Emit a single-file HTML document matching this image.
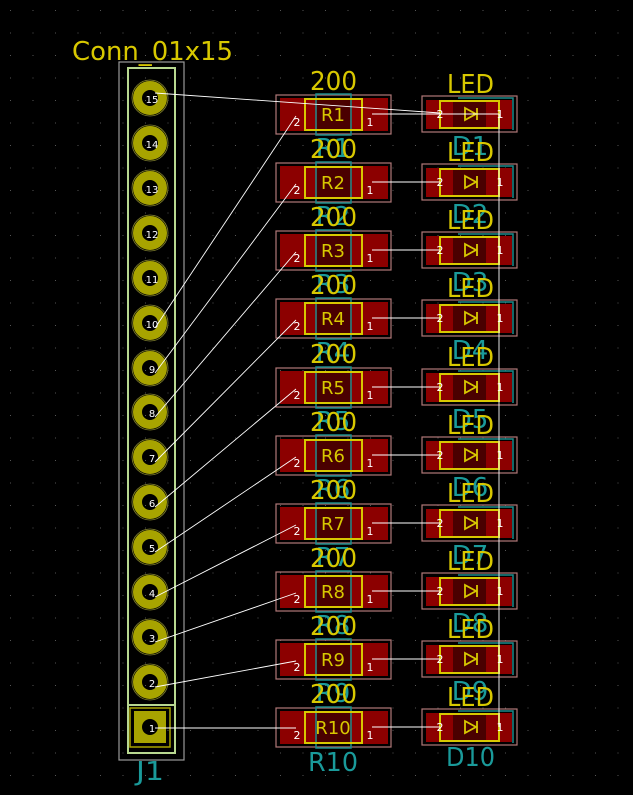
<!DOCTYPE html>
<html><head><meta charset="utf-8"><style>
html,body{margin:0;padding:0;background:#000;}
svg{display:block;}
text{font-family:"DejaVu Sans","Liberation Sans",sans-serif;}
</style></head><body>
<svg width="633" height="795" viewBox="0 0 633 795" xmlns="http://www.w3.org/2000/svg">
<defs>
<pattern id="grid" x="0" y="0" width="22.5" height="22.5" patternUnits="userSpaceOnUse">
<rect x="10" y="10" width="1" height="1" fill="#555"/>
</pattern>
<g id="res">
<rect x="276" y="-19" width="115" height="39" fill="none" stroke="#b07878" stroke-width="1.2"/>
<rect x="280" y="-16" width="108" height="33" fill="#8c0000"/>
<rect x="317" y="-16" width="33" height="33" fill="#4a0000"/>
<rect x="316" y="-20" width="35" height="41" fill="none" stroke="#1a8c8c" stroke-width="1.5"/>
<rect x="305" y="-15" width="57" height="31" fill="none" stroke="#d8c800" stroke-width="2"/>
</g>
<g id="led">
<rect x="422" y="-18" width="95" height="36" fill="none" stroke="#b07878" stroke-width="1.2"/>
<rect x="426" y="-14" width="86" height="29" fill="#8c0000"/>
<rect x="453" y="-14" width="33" height="29" fill="#4a0000"/>
<path d="M458 -16 H513 V16" fill="none" stroke="#1a8c8c" stroke-width="1.5"/>
<rect x="440" y="-13" width="59" height="27" fill="none" stroke="#d8c800" stroke-width="2"/>
<path d="M465 -6 L476 0 L465 6 Z M477 -6 V6" fill="none" stroke="#d8c800" stroke-width="1.8"/>
</g>
<g id="pad">
<circle r="18" fill="none" stroke="#8a8a30" stroke-width="0.8"/>
<circle r="12.5" fill="none" stroke="#a8a400" stroke-width="9"/>
</g>
</defs>
<rect width="633" height="795" fill="#000"/>
<rect width="633" height="795" fill="url(#grid)"/>

<!-- connector -->
<rect x="119" y="62" width="65" height="698" fill="none" stroke="#9a9a9a" stroke-width="1.2"/>
<rect x="128" y="68" width="47" height="685" fill="none" stroke="#b8d890" stroke-width="2"/>
<line x1="128" y1="705" x2="175" y2="705" stroke="#b8d890" stroke-width="2"/>
<g>
<use href="#pad" x="150" y="98"/><use href="#pad" x="150" y="143"/><use href="#pad" x="150" y="188"/>
<use href="#pad" x="150" y="233"/><use href="#pad" x="150" y="278"/><use href="#pad" x="150" y="323"/>
<use href="#pad" x="150" y="368"/><use href="#pad" x="150" y="412"/><use href="#pad" x="150" y="457"/>
<use href="#pad" x="150" y="502"/><use href="#pad" x="150" y="547"/><use href="#pad" x="150" y="592"/>
<use href="#pad" x="150" y="637"/><use href="#pad" x="150" y="682"/>
</g>
<rect x="134" y="711" width="32" height="32" fill="#a8a400"/>
<rect x="130" y="708" width="40" height="39" fill="none" stroke="#a8a400" stroke-width="1.5"/>
<circle cx="150" cy="727" r="8" fill="#000"/>
<g fill="#fff" font-size="10" text-anchor="middle">
<text x="152" y="103">15</text><text x="152" y="148">14</text><text x="152" y="193">13</text>
<text x="152" y="238">12</text><text x="152" y="283">11</text><text x="152" y="328">10</text>
<text x="152" y="373">9</text><text x="152" y="417">8</text><text x="152" y="462">7</text>
<text x="152" y="507">6</text><text x="152" y="552">5</text><text x="152" y="597">4</text>
<text x="152" y="642">3</text><text x="152" y="687">2</text><text x="152" y="732">1</text>
</g>
<text x="72" y="60" font-size="26" fill="#d8c800" textLength="161" lengthAdjust="spacingAndGlyphs">Conn_01x15</text>
<text x="136" y="780" font-size="26" fill="#1a9a9a" textLength="28" lengthAdjust="spacingAndGlyphs">J1</text>

<!-- components -->
<use href="#res" y="114"/><use href="#led" y="114"/>
<use href="#res" y="182"/><use href="#led" y="182"/>
<use href="#res" y="250"/><use href="#led" y="250"/>
<use href="#res" y="318"/><use href="#led" y="318"/>
<use href="#res" y="387"/><use href="#led" y="387"/>
<use href="#res" y="455"/><use href="#led" y="455"/>
<use href="#res" y="523"/><use href="#led" y="523"/>
<use href="#res" y="591"/><use href="#led" y="591"/>
<use href="#res" y="659"/><use href="#led" y="659"/>
<use href="#res" y="727"/><use href="#led" y="727"/>

<!-- hidden teal refs -->
<g fill="#1a9a9a" font-size="26" text-anchor="middle">
<text x="333" y="157">R1</text><text x="470" y="155">D1</text>
<text x="333" y="225">R2</text><text x="470" y="223">D2</text>
<text x="333" y="293">R3</text><text x="470" y="291">D3</text>
<text x="333" y="361">R4</text><text x="470" y="359">D4</text>
<text x="333" y="430">R5</text><text x="470" y="428">D5</text>
<text x="333" y="498">R6</text><text x="470" y="496">D6</text>
<text x="333" y="566">R7</text><text x="470" y="564">D7</text>
<text x="333" y="634">R8</text><text x="470" y="632">D8</text>
<text x="333" y="702">R9</text><text x="470" y="700">D9</text>
</g>
<text x="308" y="771" font-size="26" fill="#1a9a9a" textLength="50" lengthAdjust="spacingAndGlyphs">R10</text>
<text x="446" y="766" font-size="26" fill="#1a9a9a" textLength="49" lengthAdjust="spacingAndGlyphs">D10</text>
<!-- values -->
<g fill="#d8c800" font-size="26">
<text x="310" y="90" textLength="47" lengthAdjust="spacingAndGlyphs">200</text><text x="447" y="93" textLength="47" lengthAdjust="spacingAndGlyphs">LED</text>
<text x="310" y="158" textLength="47" lengthAdjust="spacingAndGlyphs">200</text><text x="447" y="161" textLength="47" lengthAdjust="spacingAndGlyphs">LED</text>
<text x="310" y="226" textLength="47" lengthAdjust="spacingAndGlyphs">200</text><text x="447" y="229" textLength="47" lengthAdjust="spacingAndGlyphs">LED</text>
<text x="310" y="294" textLength="47" lengthAdjust="spacingAndGlyphs">200</text><text x="447" y="297" textLength="47" lengthAdjust="spacingAndGlyphs">LED</text>
<text x="310" y="363" textLength="47" lengthAdjust="spacingAndGlyphs">200</text><text x="447" y="366" textLength="47" lengthAdjust="spacingAndGlyphs">LED</text>
<text x="310" y="431" textLength="47" lengthAdjust="spacingAndGlyphs">200</text><text x="447" y="434" textLength="47" lengthAdjust="spacingAndGlyphs">LED</text>
<text x="310" y="499" textLength="47" lengthAdjust="spacingAndGlyphs">200</text><text x="447" y="502" textLength="47" lengthAdjust="spacingAndGlyphs">LED</text>
<text x="310" y="567" textLength="47" lengthAdjust="spacingAndGlyphs">200</text><text x="447" y="570" textLength="47" lengthAdjust="spacingAndGlyphs">LED</text>
<text x="310" y="635" textLength="47" lengthAdjust="spacingAndGlyphs">200</text><text x="447" y="638" textLength="47" lengthAdjust="spacingAndGlyphs">LED</text>
<text x="310" y="703" textLength="47" lengthAdjust="spacingAndGlyphs">200</text><text x="447" y="706" textLength="47" lengthAdjust="spacingAndGlyphs">LED</text>
</g>
<g fill="#d8c800" font-size="18" text-anchor="middle">
<text x="333" y="121">R1</text><text x="333" y="189">R2</text><text x="333" y="257">R3</text>
<text x="333" y="325">R4</text><text x="333" y="394">R5</text><text x="333" y="462">R6</text>
<text x="333" y="530">R7</text><text x="333" y="598">R8</text><text x="333" y="666">R9</text>
<text x="333" y="734">R10</text>
</g>
<!-- pad numbers -->
<g fill="#fff" font-size="11" text-anchor="middle">
<text x="297" y="126">2</text><text x="370" y="126">1</text><text x="440" y="118">2</text><text x="500" y="118">1</text>
<text x="297" y="194">2</text><text x="370" y="194">1</text><text x="440" y="186">2</text><text x="500" y="186">1</text>
<text x="297" y="262">2</text><text x="370" y="262">1</text><text x="440" y="254">2</text><text x="500" y="254">1</text>
<text x="297" y="330">2</text><text x="370" y="330">1</text><text x="440" y="322">2</text><text x="500" y="322">1</text>
<text x="297" y="399">2</text><text x="370" y="399">1</text><text x="440" y="391">2</text><text x="500" y="391">1</text>
<text x="297" y="467">2</text><text x="370" y="467">1</text><text x="440" y="459">2</text><text x="500" y="459">1</text>
<text x="297" y="535">2</text><text x="370" y="535">1</text><text x="440" y="527">2</text><text x="500" y="527">1</text>
<text x="297" y="603">2</text><text x="370" y="603">1</text><text x="440" y="595">2</text><text x="500" y="595">1</text>
<text x="297" y="671">2</text><text x="370" y="671">1</text><text x="440" y="663">2</text><text x="500" y="663">1</text>
<text x="297" y="739">2</text><text x="370" y="739">1</text><text x="440" y="731">2</text><text x="500" y="731">1</text>
</g>

<!-- ratsnest -->
<g stroke="#fff" stroke-width="0.9" fill="none">
<line x1="155" y1="93" x2="440" y2="113"/>
<line x1="499" y1="114" x2="499" y2="727"/>
<line x1="372" y1="114" x2="499" y2="114"/>
<line x1="372" y1="182" x2="440" y2="182"/>
<line x1="372" y1="250" x2="440" y2="250"/>
<line x1="372" y1="318" x2="440" y2="318"/>
<line x1="372" y1="387" x2="440" y2="387"/>
<line x1="372" y1="455" x2="440" y2="455"/>
<line x1="372" y1="523" x2="440" y2="523"/>
<line x1="372" y1="591" x2="440" y2="591"/>
<line x1="372" y1="659" x2="440" y2="659"/>
<line x1="372" y1="727" x2="440" y2="727"/>
<line x1="296" y1="116" x2="155" y2="328"/>
<line x1="296" y1="184" x2="155" y2="373"/>
<line x1="296" y1="252" x2="155" y2="417"/>
<line x1="296" y1="320" x2="155" y2="462"/>
<line x1="296" y1="389" x2="155" y2="507"/>
<line x1="296" y1="457" x2="155" y2="552"/>
<line x1="296" y1="525" x2="155" y2="597"/>
<line x1="296" y1="593" x2="155" y2="642"/>
<line x1="296" y1="661" x2="155" y2="687"/>
<line x1="296" y1="728" x2="155" y2="728"/>
</g>
</svg>
</body></html>
